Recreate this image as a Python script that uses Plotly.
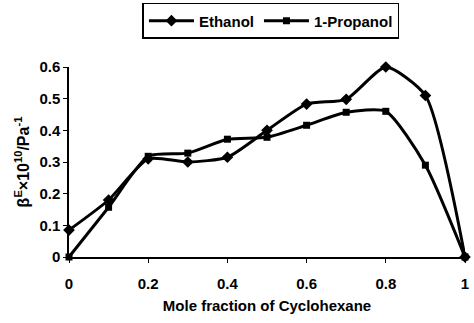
import plotly.graph_objects as go

# Mole fraction of cyclohexane
x_frac = [0.0, 0.1, 0.2, 0.3, 0.4, 0.5, 0.6, 0.7, 0.8, 0.9, 1.0]
# Excess isentropic compressibility (x 10^10 Pa^-1)
ethanol = [0.085, 0.18, 0.31, 0.30, 0.315, 0.40, 0.483, 0.498, 0.60, 0.51, 0.0]
propanol = [0.0, 0.157, 0.318, 0.328, 0.372, 0.378, 0.416, 0.457, 0.46, 0.29, 0.0]

x_ticks = [0, 0.2, 0.4, 0.6, 0.8, 1]
x_ticklabels = ["0", "0.2", "0.4", "0.6", "0.8", "1"]
y_ticks = [0, 0.1, 0.2, 0.3, 0.4, 0.5, 0.6]
y_ticklabels = ["0", "0.1", "0.2", "0.3", "0.4", "0.5", "0.6"]

FONT = "Liberation Sans, Arial, sans-serif"

fig = go.Figure()
fig.add_trace(go.Scatter(
    x=x_frac, y=ethanol, name="Ethanol", mode="lines+markers",
    line=dict(color="black", width=3, shape="spline", smoothing=0.6),
    marker=dict(symbol="diamond", size=9, color="black"),
    cliponaxis=False,
))
fig.add_trace(go.Scatter(
    x=x_frac, y=propanol, name="1-Propanol", mode="lines+markers",
    line=dict(color="black", width=3, shape="spline", smoothing=0.6),
    marker=dict(symbol="square", size=7, color="black"),
    cliponaxis=False,
))

fig.update_layout(
    width=474, height=323,
    margin=dict(l=69, r=9, t=67, b=66, autoexpand=False),
    paper_bgcolor="white", plot_bgcolor="white",
    font=dict(family=FONT, size=15, color="black"),
    showlegend=True,
    legend=dict(
        orientation="h", x=0.51, xanchor="center", y=1.337, yanchor="top",
        bordercolor="black", borderwidth=1.5, bgcolor="white",
        font=dict(family=FONT, size=15, color="black", weight="bold"),
        itemwidth=45, tracegroupgap=0,
    ),
    xaxis=dict(
        range=[0, 1], tickvals=x_ticks, ticktext=x_ticklabels,
        showgrid=False, zeroline=False, showline=True, linecolor="black",
        linewidth=1.5, ticks="outside", ticklen=4, tickcolor="black",
        ticklabelstandoff=8, automargin=False,
        tickfont=dict(family=FONT, size=15, weight="bold"),
        title=dict(text="Mole fraction of Cyclohexane", standoff=10,
                   font=dict(family=FONT, size=15, weight="bold")),
    ),
    yaxis=dict(
        range=[0, 0.6], tickvals=y_ticks, ticktext=y_ticklabels,
        showgrid=False, zeroline=False, showline=True, linecolor="black",
        linewidth=1.5, ticks="outside", ticklen=4, tickcolor="black",
        automargin=False,
        tickfont=dict(family=FONT, size=15, weight="bold"),
        title=dict(text="β<sup>E</sup>×10<sup>10</sup>/Pa<sup>-1</sup>", standoff=6,
                   font=dict(family=FONT, size=16, weight="bold")),
    ),
)

fig.write_html("out.html")
